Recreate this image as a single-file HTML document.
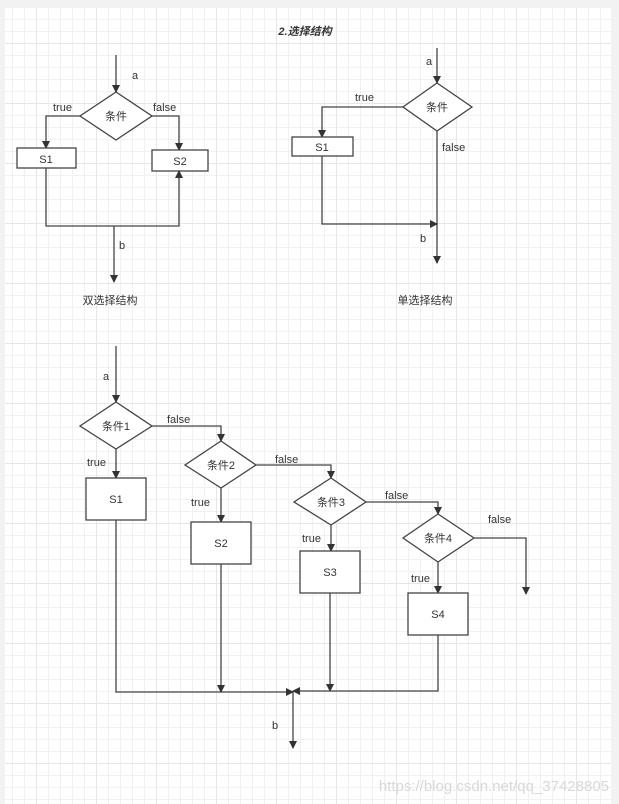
<!DOCTYPE html>
<html><head><meta charset="utf-8"><style>
html,body{margin:0;padding:0;background:#f2f2f2;}
.pg{position:absolute;left:5px;top:8px;width:606px;height:796px;background:#fff;
background-image:
linear-gradient(#e6e6e6 1px,transparent 1px),linear-gradient(90deg,#e6e6e6 1px,transparent 1px),
linear-gradient(#f1f1f1 1px,transparent 1px),linear-gradient(90deg,#f1f1f1 1px,transparent 1px);
background-size:60px 60px,60px 60px,12px 12px,12px 12px;
background-position:0 35px,31px 0,0 35px,31px 0;}
svg{position:absolute;left:0;top:0;}
text{font-family:"Liberation Sans","Noto Sans CJK SC",sans-serif;font-size:11px;fill:#333;}
</style></head><body>
<div class="pg"></div>
<svg width="619" height="804" viewBox="0 0 619 804">
<defs><marker id="a" markerWidth="8" markerHeight="8" refX="7" refY="4" orient="auto" markerUnits="userSpaceOnUse"><path d="M0,0 L8,4 L0,8 Z" fill="#333"/></marker></defs>
<g stroke="#444" stroke-width="1.3" fill="none">
<!-- top left -->
<line x1="116" y1="55" x2="116" y2="92" marker-end="url(#a)"/>
<polygon points="116,92 152,116 116,140 80,116" fill="#fff"/>
<polyline points="80,116 46,116 46,148" marker-end="url(#a)"/>
<polyline points="152,116 179,116 179,150" marker-end="url(#a)"/>
<rect x="17" y="148" width="59" height="20" fill="#fff"/>
<rect x="152" y="150" width="56" height="21" fill="#fff"/>
<polyline points="46,168 46,226 179,226 179,171" marker-end="url(#a)"/>
<line x1="114" y1="226" x2="114" y2="282" marker-end="url(#a)"/>
<!-- top right -->
<line x1="437" y1="48" x2="437" y2="83" marker-end="url(#a)"/>
<polygon points="437,83 472,107 437,131 403,107" fill="#fff"/>
<polyline points="403,107 322,107 322,137" marker-end="url(#a)"/>
<rect x="292" y="137" width="61" height="19" fill="#fff"/>
<line x1="437" y1="131" x2="437" y2="263" marker-end="url(#a)"/>
<polyline points="322,156 322,224 437,224" marker-end="url(#a)"/>
<!-- bottom -->
<line x1="116" y1="346" x2="116" y2="402" marker-end="url(#a)"/>
<polygon points="116,402 152,426 116,449 80,426" fill="#fff"/>
<polyline points="152,426 221,426 221,441" marker-end="url(#a)"/>
<line x1="116" y1="449" x2="116" y2="478" marker-end="url(#a)"/>
<rect x="86" y="478" width="60" height="42" fill="#fff"/>
<polygon points="221,441 256,465 221,488 185,465" fill="#fff"/>
<polyline points="256,465 331,465 331,478" marker-end="url(#a)"/>
<line x1="221" y1="488" x2="221" y2="522" marker-end="url(#a)"/>
<rect x="191" y="522" width="60" height="42" fill="#fff"/>
<polygon points="331,478 366,502 331,525 294,502" fill="#fff"/>
<polyline points="366,502 438,502 438,514" marker-end="url(#a)"/>
<line x1="331" y1="525" x2="331" y2="551" marker-end="url(#a)"/>
<rect x="300" y="551" width="60" height="42" fill="#fff"/>
<polygon points="438,514 474,538 438,562 403,538" fill="#fff"/>
<polyline points="474,538 526,538 526,594" marker-end="url(#a)"/>
<line x1="438" y1="562" x2="438" y2="593" marker-end="url(#a)"/>
<rect x="408" y="593" width="60" height="42" fill="#fff"/>
<polyline points="116,520 116,692 293,692" marker-end="url(#a)"/>
<line x1="221" y1="564" x2="221" y2="692" marker-end="url(#a)"/>
<line x1="330" y1="593" x2="330" y2="691" marker-end="url(#a)"/>
<polyline points="438,635 438,691 293,691" marker-end="url(#a)"/>
<line x1="293" y1="692" x2="293" y2="748" marker-end="url(#a)"/>
</g>
<text x="305" y="35" text-anchor="middle" style="font-weight:bold;font-style:italic">2.选择结构</text>
<text x="132" y="79">a</text><text x="53" y="111">true</text><text x="153" y="111">false</text>
<text x="116" y="120" text-anchor="middle">条件</text>
<text x="46" y="163" text-anchor="middle">S1</text><text x="180" y="165" text-anchor="middle">S2</text>
<text x="119" y="249">b</text><text x="110" y="304" text-anchor="middle">双选择结构</text>
<text x="426" y="65">a</text><text x="355" y="101">true</text><text x="442" y="151">false</text>
<text x="437" y="111" text-anchor="middle">条件</text>
<text x="322" y="151" text-anchor="middle">S1</text>
<text x="420" y="242">b</text><text x="425" y="304" text-anchor="middle">单选择结构</text>
<text x="103" y="380">a</text>
<text x="116" y="430" text-anchor="middle">条件1</text><text x="167" y="423">false</text><text x="87" y="466">true</text>
<text x="116" y="503" text-anchor="middle">S1</text>
<text x="221" y="469" text-anchor="middle">条件2</text><text x="275" y="463">false</text><text x="191" y="506">true</text>
<text x="221" y="547" text-anchor="middle">S2</text>
<text x="331" y="506" text-anchor="middle">条件3</text><text x="385" y="499">false</text><text x="302" y="542">true</text>
<text x="330" y="576" text-anchor="middle">S3</text>
<text x="438" y="542" text-anchor="middle">条件4</text><text x="488" y="523">false</text><text x="411" y="582">true</text>
<text x="438" y="618" text-anchor="middle">S4</text>
<text x="272" y="729">b</text>
<text x="609" y="791" text-anchor="end" style="font-size:15px;fill:#d8d8d8">https://blog.csdn.net/qq_37428805</text>
</svg>
</body></html>
